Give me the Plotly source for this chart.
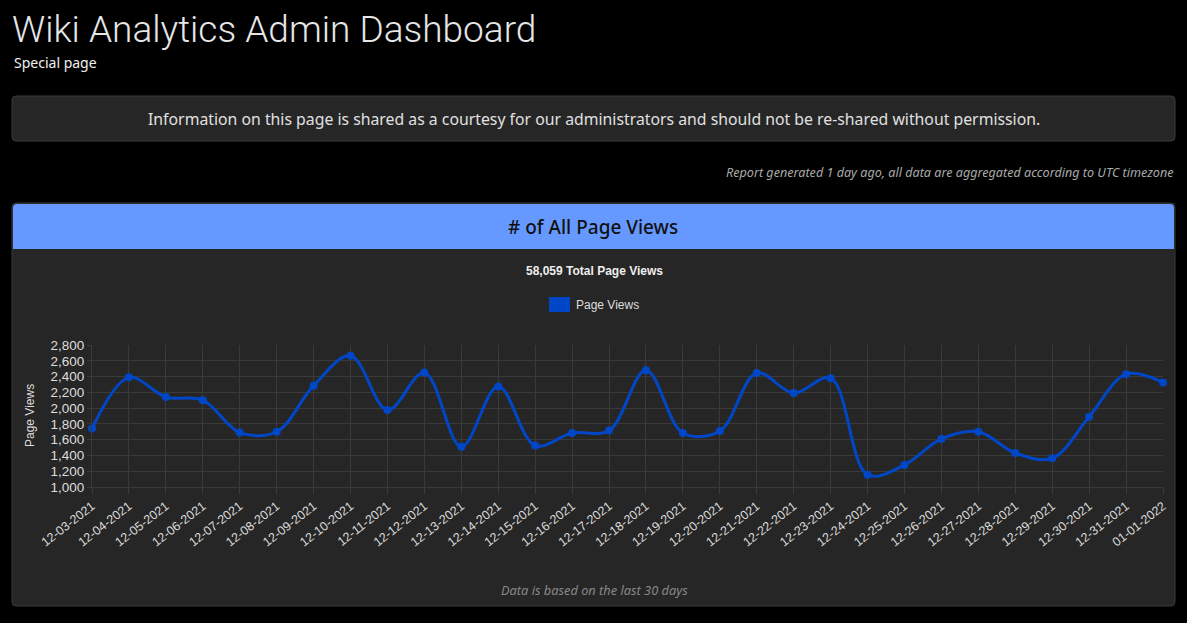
import plotly.graph_objects as go

dates = ["12-03-2021", "12-04-2021", "12-05-2021", "12-06-2021", "12-07-2021",
         "12-08-2021", "12-09-2021", "12-10-2021", "12-11-2021", "12-12-2021",
         "12-13-2021", "12-14-2021", "12-15-2021", "12-16-2021", "12-17-2021",
         "12-18-2021", "12-19-2021", "12-20-2021", "12-21-2021", "12-22-2021",
         "12-23-2021", "12-24-2021", "12-25-2021", "12-26-2021", "12-27-2021",
         "12-28-2021", "12-29-2021", "12-30-2021", "12-31-2021", "01-01-2022"]
page_views = [1740, 2390, 2140, 2100, 1690, 1700, 2285, 2665, 1975, 2450,
              1510, 2275, 1525, 1685, 1715, 2480, 1685, 1710, 2445, 2190,
              2380, 1155, 1280, 1610, 1700, 1430, 1365, 1890, 2430, 2325]
y_ticks = [1000, 1200, 1400, 1600, 1800, 2000, 2200, 2400, 2600, 2800]
total_views = 58059

OFF = 8  # page body margin
VW, VH = 1187, 623
W, H = VW - OFF, VH - OFF
PL, PR, PT, PB = 92, 1163, 345, 487  # plot area in viewport pixels
PW, PH = PR - PL, PB - PT


def px(x):
    return (x - PL) / PW


def py(y):
    return (PB - y) / PH


def rrect(x0, y0, x1, y1, r=4, top=True, bottom=True):
    X0, X1 = px(x0), px(x1)
    Y0, Y1 = py(y0), py(y1)
    rx, ry = r / PW, r / PH
    p = []
    if top:
        p.append(f"M{X0},{Y0 - ry} Q{X0},{Y0} {X0 + rx},{Y0} L{X1 - rx},{Y0} Q{X1},{Y0} {X1},{Y0 - ry}")
    else:
        p.append(f"M{X0},{Y0} L{X1},{Y0}")
    if bottom:
        p.append(f"L{X1},{Y1 + ry} Q{X1},{Y1} {X1 - rx},{Y1} L{X0 + rx},{Y1} Q{X0},{Y1} {X0},{Y1 + ry}")
    else:
        p.append(f"L{X1},{Y1} L{X0},{Y1}")
    p.append("Z")
    return " ".join(p)


PAGE_FONT = "Noto Sans"
CHART_FONT = "Liberation Sans"
GRID = "#3a3a3a"

fig = go.Figure()
fig.add_trace(go.Scatter(
    x=dates, y=page_views, mode="lines+markers", name="Page Views",
    line=dict(color="#0047c8", width=3, shape="spline", smoothing=1.0),
    marker=dict(color="#0047c8", size=8),
    cliponaxis=False, showlegend=False,
))

shapes = [
    dict(type="path", path=rrect(12, 96, 1175, 141), fillcolor="#262626",
         line=dict(color="#3a3a3a", width=1), layer="below"),
    dict(type="path", path=rrect(12, 203, 1175, 606), fillcolor="#262626",
         line=dict(color="#3a3a3a", width=1), layer="below"),
    dict(type="path", path=rrect(13, 204, 1174, 249, bottom=False), fillcolor="#6699ff",
         line=dict(width=0), layer="below"),
    dict(type="rect", x0=px(549), x1=px(570), y0=py(297), y1=py(312),
         fillcolor="#0047c8", line=dict(width=0)),
]
for s in shapes:
    s.update(xref="paper", yref="paper")

annotations = [
    dict(text="Wiki Analytics Admin Dashboard", x=px(10), y=py(29), xanchor="left", yanchor="middle",
         font=dict(family="Roboto", size=37, color="#e6e6e6", weight=300)),
    dict(text="Special page", x=px(12), y=py(62), xanchor="left", yanchor="middle",
         font=dict(family=PAGE_FONT, size=14, color="#f0f0f0")),
    dict(text="Information on this page is shared as a courtesy for our administrators and should not be re-shared without permission.",
         x=px(594), y=py(119), xanchor="center", yanchor="middle",
         font=dict(family=PAGE_FONT, size=15.8, color="#e0e0e0")),
    dict(text="<i>Report generated 1 day ago, all data are aggregated according to UTC timezone</i>",
         x=px(1176), y=py(172), xanchor="right", yanchor="middle",
         font=dict(family=PAGE_FONT, size=12.6, color="#aaaaaa")),
    dict(text="# of All Page Views", x=px(593), y=py(227), xanchor="center", yanchor="middle",
         font=dict(family=PAGE_FONT, size=19, color="#111111", weight=500)),
    dict(text=f"<b>{total_views:,} Total Page Views</b>", x=px(594), y=py(271), xanchor="center", yanchor="middle",
         font=dict(family=CHART_FONT, size=12, color="#eeeeee")),
    dict(text="Page Views", x=px(574), y=py(304.5), xanchor="left", yanchor="middle",
         font=dict(family=CHART_FONT, size=12, color="#dddddd")),
    dict(text="Page Views", x=px(30), y=py(416), xanchor="center", yanchor="middle", textangle=-90,
         font=dict(family=CHART_FONT, size=12, color="#dddddd")),
    dict(text="<i>Data is based on the last 30 days</i>", x=px(594), y=py(590), xanchor="center", yanchor="middle",
         font=dict(family=PAGE_FONT, size=12.8, color="#888888")),
]
for a in annotations:
    a.update(xref="paper", yref="paper", showarrow=False)

fig.update_layout(
    width=W, height=H,
    margin=dict(l=PL - OFF, r=W - (PR - OFF), t=PT - OFF, b=H - (PB - OFF), pad=0),
    paper_bgcolor="#000000", plot_bgcolor="#262626",
    shapes=shapes, annotations=annotations, showlegend=False,
    font=dict(family=CHART_FONT, size=12, color="#dddddd"),
    xaxis=dict(
        type="category", range=[0, len(dates) - 1], tickangle=-38,
        showgrid=True, gridcolor=GRID, gridwidth=1,
        showline=True, linecolor=GRID, linewidth=1,
        ticks="outside", ticklen=6, tickcolor=GRID,
        tickfont=dict(family=CHART_FONT, size=12.5, color="#dddddd"),
        zeroline=False, fixedrange=True,
    ),
    yaxis=dict(
        range=[1000, 2800], tickvals=y_ticks, ticktext=[f"{v:,}" for v in y_ticks],
        showgrid=True, gridcolor=GRID, gridwidth=1,
        showline=True, linecolor=GRID, linewidth=1,
        ticks="outside", ticklen=4, tickcolor=GRID,
        tickfont=dict(family=CHART_FONT, size=13.5, color="#dddddd"),
        zeroline=False, fixedrange=True,
    ),
)

fig.write_html("out.html", post_script="document.body.style.backgroundColor='#000000';")
